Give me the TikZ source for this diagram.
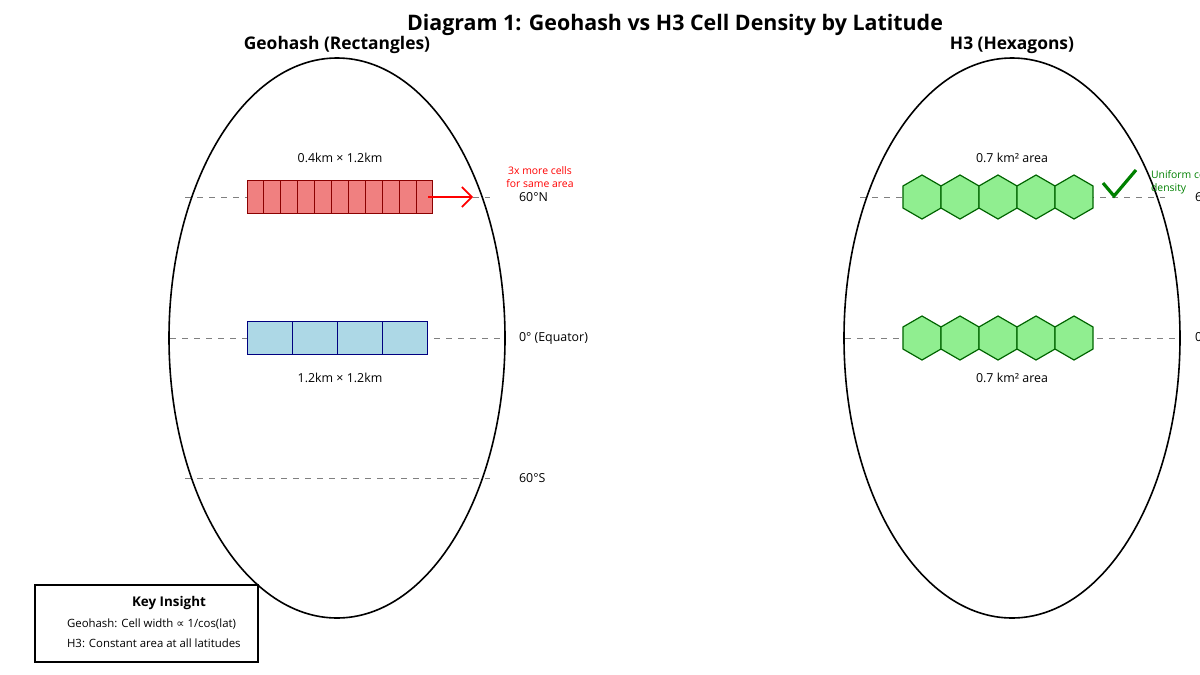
\documentclass[tikz,border=0pt]{standalone}
\usepackage{fontspec}
\setmainfont{Open Sans}
\newfontfamily\djv{DejaVu Sans}
\usetikzlibrary{arrows.meta}
\begin{document}
\begin{tikzpicture}[x=0.5pt,y=-0.5pt,
  lbl/.style={font=\fontsize{6.2}{7}\selectfont},
  hd/.style={font=\bfseries\fontsize{8.7}{10}\selectfont},
  dl/.style={dashed,gray,line width=0.4pt},
  hexc/.style={fill=hexfill,draw=hexdraw,line width=0.6pt}]
\definecolor{hexfill}{HTML}{90EE90}\definecolor{hexdraw}{HTML}{006400}
\definecolor{rfill}{HTML}{F08080}\definecolor{rdraw}{HTML}{8B0000}
\definecolor{bfill}{HTML}{ADD8E6}\definecolor{bdraw}{HTML}{000080}
\definecolor{gtext}{HTML}{008000}
\useasboundingbox (0,0) rectangle (1200,675);
\node[font=\bfseries\fontsize{10.7}{12}\selectfont] (title) at (675,25) {Diagram 1: Geohash vs H3 Cell Density by Latitude};
\node[hd] (gh) at (337,45) {Geohash (Rectangles)};
\node[hd] (h3) at (1012,45) {H3 (Hexagons)};
% left globe
\draw[dl] (185,197) -- (490,197);
\draw[dl] (170,338) -- (505,338);
\draw[dl] (185,478) -- (490,478);
\draw[line width=0.8pt] (337,338) ellipse [x radius=168, y radius=280];
\node[lbl,anchor=west] (n60) at (512,197) {60°N};
\node[lbl,anchor=west] (eq) at (512,338) {0° (Equator)};
\node[lbl,anchor=west] (s60) at (512,478) {60°S};
\foreach \i in {0,...,10}{
  \draw[fill=rfill,draw=rdraw,line width=0.5pt] ({247+\i*16.9},180) rectangle ({247+(\i+1)*16.9},213);}
\foreach \i in {0,...,3}{
  \draw[fill=bfill,draw=bdraw,line width=0.5pt] ({247+\i*45},321) rectangle ({247+(\i+1)*45},354);}
\coordinate (a1) at (428,197); \coordinate (a2) at (473,197);
\draw[red,line width=0.8pt,-{Straight Barb[length=5pt,width=10pt]}] (a1) -- (a2);
\node[lbl,text=red,align=center,font=\fontsize{5.2}{6.5}\selectfont] (more) at (540,177) {3x more cells\\for same area};
\node[lbl] (r1) at (340,158) {0.4km × 1.2km};
\node[lbl] (r2) at (340,378) {1.2km × 1.2km};
% right globe
\draw[dl] (860,197) -- (1165,197);
\draw[dl] (845,338) -- (1180,338);
\draw[line width=0.8pt] (1012,338) ellipse [x radius=168, y radius=280];
\node[lbl,anchor=west] (n60r) at (1188,197) {60°N};
\node[lbl,anchor=west] (eqr) at (1188,338) {0° (Equator)};
\foreach \y in {197,338}{
 \foreach \i in {0,...,4}{
  \draw[hexc] ({922+\i*38}, \y) ++(90:22) -- ++(-30:22) -- ++(-90:22) -- ++(-150:22) -- ++(150:22) -- ++(90:22) -- cycle;}}
\node[lbl] (h1) at (1012,158) {0.7 km² area};
\node[lbl] (h2) at (1012,378) {0.7 km² area};
\draw[gtext,line width=1.6pt] (1103,183) -- (1114,196) -- (1136,170);
\node[lbl,text=gtext,anchor=west,align=left,font=\fontsize{5.2}{6.5}\selectfont] (unif) at (1144,182) {Uniform cell\\density};
% key box
\node[draw,fill=white,line width=0.6pt,minimum width=223*0.5pt,minimum height=77*0.5pt] (key) at (146.5,623.5) {};
\node[font=\bfseries\fontsize{6.7}{8}\selectfont] (kt) at (169,603) {Key Insight};
\node[lbl,anchor=west,font=\fontsize{5.7}{7}\selectfont] (k1) at (60,624) {Geohash: Cell width {\djv ∝} 1/cos(lat)};
\node[lbl,anchor=west,font=\fontsize{5.7}{7}\selectfont] (k2) at (60,643) {H3: Constant area at all latitudes};
\end{tikzpicture}
\end{document}
